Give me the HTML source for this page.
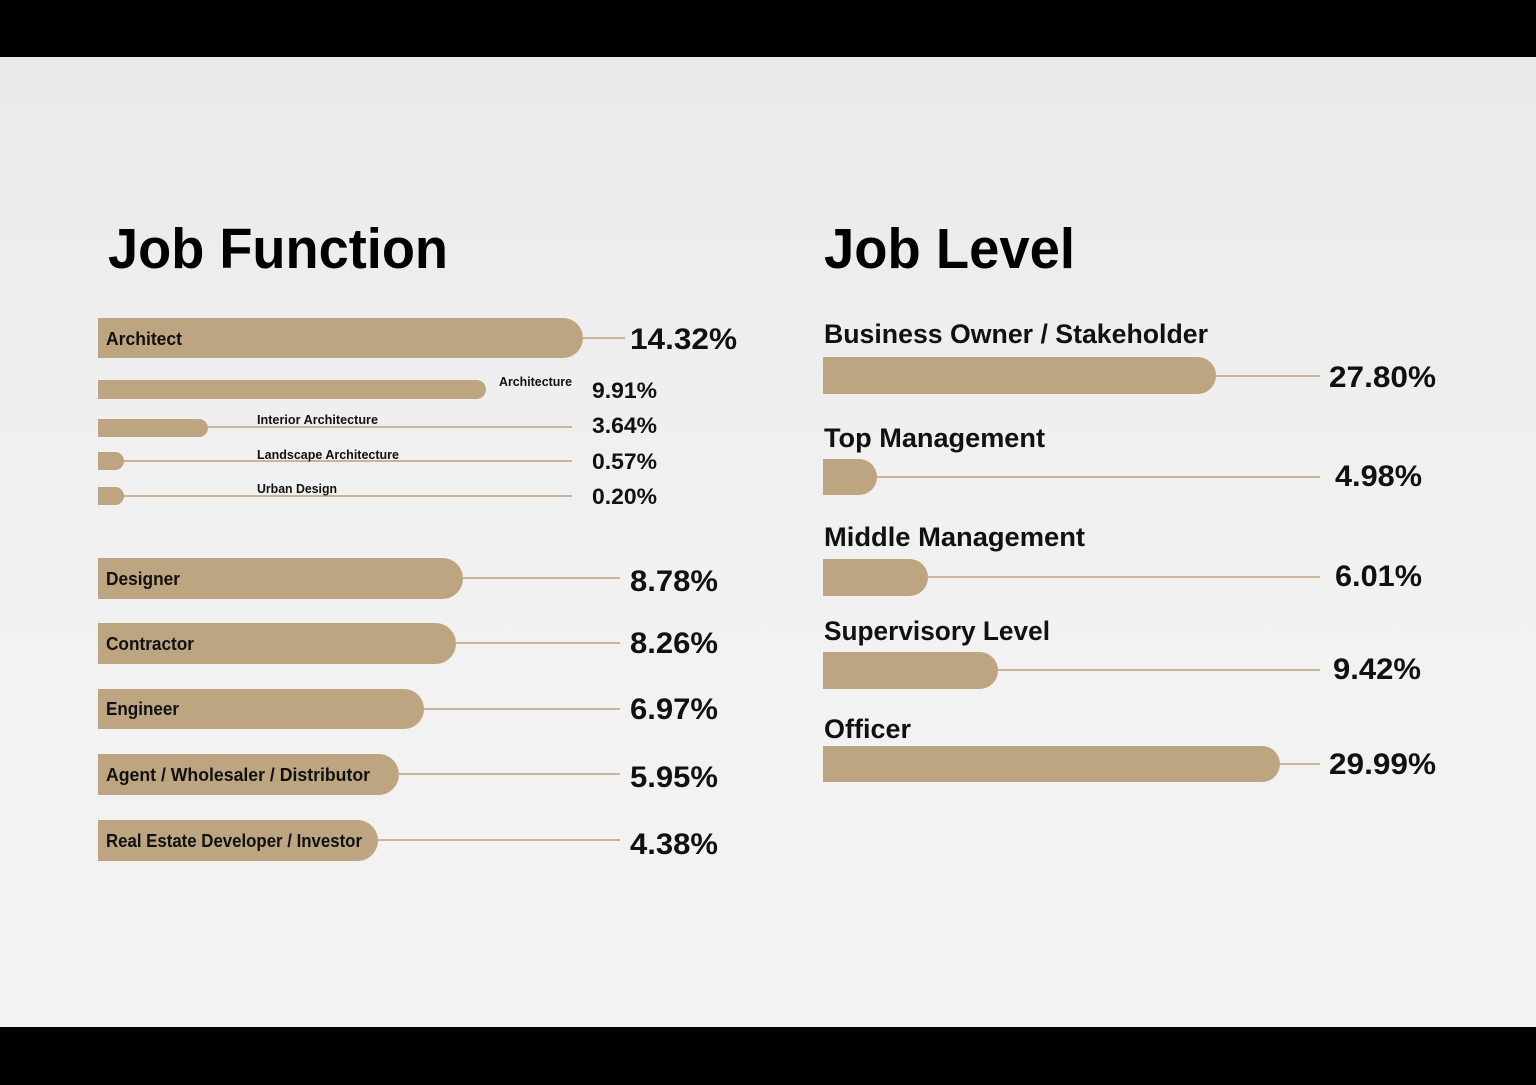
<!DOCTYPE html>
<html><head><meta charset="utf-8"><style>
html,body{margin:0;padding:0;width:1536px;height:1085px;overflow:hidden;background:#000;}
svg{display:block;font-family:"Liberation Sans",sans-serif;font-weight:bold;}
</style></head><body>
<svg width="1536" height="1085" viewBox="0 0 1536 1085" xmlns="http://www.w3.org/2000/svg">
<defs>
<linearGradient id="bg" x1="0" y1="0" x2="0" y2="1">
<stop offset="0" stop-color="#eaeaea"/><stop offset="0.5" stop-color="#f1f1f1"/><stop offset="1" stop-color="#f3f3f3"/>
</linearGradient>
</defs>
<rect x="0" y="0" width="1536" height="1085" fill="#000"/>
<rect x="0" y="57" width="1536" height="970" fill="url(#bg)"/>

<text x="108" y="268" font-size="57" fill="#000" textLength="340" lengthAdjust="spacingAndGlyphs">Job Function</text>
<text x="824" y="268" font-size="57" fill="#000" textLength="251" lengthAdjust="spacingAndGlyphs">Job Level</text>

<g stroke="#c9b699" stroke-width="2">
<line x1="583" y1="338" x2="625" y2="338"/>
<line x1="208" y1="427" x2="572" y2="427"/>
<line x1="124" y1="461" x2="572" y2="461"/>
<line x1="124" y1="496" x2="572" y2="496"/>
<line x1="463" y1="578" x2="620" y2="578"/>
<line x1="456" y1="643" x2="620" y2="643"/>
<line x1="424" y1="709" x2="620" y2="709"/>
<line x1="399" y1="774" x2="620" y2="774"/>
<line x1="378" y1="840" x2="620" y2="840"/>
<line x1="1216" y1="376" x2="1320" y2="376"/>
<line x1="877" y1="477" x2="1320" y2="477"/>
<line x1="928" y1="577" x2="1320" y2="577"/>
<line x1="998" y1="670" x2="1320" y2="670"/>
<line x1="1280" y1="764" x2="1320" y2="764"/>
</g>

<g fill="#bea582">
<path d="M98 318H563A20 20 0 0 1 563 358H98Z"/>
<path d="M98 380H476.5A9.5 9.5 0 0 1 476.5 399H98Z"/>
<path d="M98 419H199A9 9 0 0 1 199 437H98Z"/>
<path d="M98 452H115A9 9 0 0 1 115 470H98Z"/>
<path d="M98 487H115A9 9 0 0 1 115 505H98Z"/>
<path d="M98 558H442.5A20.5 20.5 0 0 1 442.5 599H98Z"/>
<path d="M98 623H435.5A20.5 20.5 0 0 1 435.5 664H98Z"/>
<path d="M98 689H404A20 20 0 0 1 404 729H98Z"/>
<path d="M98 754H378.5A20.5 20.5 0 0 1 378.5 795H98Z"/>
<path d="M98 820H357.5A20.5 20.5 0 0 1 357.5 861H98Z"/>
<path d="M823 357H1197.5A18.5 18.5 0 0 1 1197.5 394H823Z"/>
<path d="M823 459H859A18 18 0 0 1 859 495H823Z"/>
<path d="M823 559H909.5A18.5 18.5 0 0 1 909.5 596H823Z"/>
<path d="M823 652H979.5A18.5 18.5 0 0 1 979.5 689H823Z"/>
<path d="M823 746H1262A18 18 0 0 1 1262 782H823Z"/>
</g>

<g fill="#111" font-size="18">
<text x="106" y="345" textLength="76" lengthAdjust="spacingAndGlyphs">Architect</text>
<text x="106" y="585" textLength="74" lengthAdjust="spacingAndGlyphs">Designer</text>
<text x="106" y="650" textLength="88" lengthAdjust="spacingAndGlyphs">Contractor</text>
<text x="106" y="715" textLength="73" lengthAdjust="spacingAndGlyphs">Engineer</text>
<text x="106" y="781" textLength="264" lengthAdjust="spacingAndGlyphs">Agent / Wholesaler / Distributor</text>
<text x="106" y="847" textLength="256" lengthAdjust="spacingAndGlyphs">Real Estate Developer / Investor</text>
</g>
<g fill="#111" font-size="13">
<text x="499" y="386" textLength="73" lengthAdjust="spacingAndGlyphs">Architecture</text>
<text x="257" y="424" textLength="121" lengthAdjust="spacingAndGlyphs">Interior Architecture</text>
<text x="257" y="459" textLength="142" lengthAdjust="spacingAndGlyphs">Landscape Architecture</text>
<text x="257" y="493" textLength="80" lengthAdjust="spacingAndGlyphs">Urban Design</text>
</g>
<g fill="#111" font-size="22">
<text x="592" y="398" textLength="65" lengthAdjust="spacingAndGlyphs">9.91%</text>
<text x="592" y="433" textLength="65" lengthAdjust="spacingAndGlyphs">3.64%</text>
<text x="592" y="469" textLength="65" lengthAdjust="spacingAndGlyphs">0.57%</text>
<text x="592" y="504" textLength="65" lengthAdjust="spacingAndGlyphs">0.20%</text>
</g>
<g fill="#111" font-size="30">
<text x="630" y="349" textLength="107" lengthAdjust="spacingAndGlyphs">14.32%</text>
<text x="630" y="591" textLength="88" lengthAdjust="spacingAndGlyphs">8.78%</text>
<text x="630" y="653" textLength="88" lengthAdjust="spacingAndGlyphs">8.26%</text>
<text x="630" y="719" textLength="88" lengthAdjust="spacingAndGlyphs">6.97%</text>
<text x="630" y="787" textLength="88" lengthAdjust="spacingAndGlyphs">5.95%</text>
<text x="630" y="854" textLength="88" lengthAdjust="spacingAndGlyphs">4.38%</text>
<text x="1329" y="387" textLength="107" lengthAdjust="spacingAndGlyphs">27.80%</text>
<text x="1335" y="486" textLength="87" lengthAdjust="spacingAndGlyphs">4.98%</text>
<text x="1335" y="586" textLength="87" lengthAdjust="spacingAndGlyphs">6.01%</text>
<text x="1333" y="679" textLength="88" lengthAdjust="spacingAndGlyphs">9.42%</text>
<text x="1329" y="774" textLength="107" lengthAdjust="spacingAndGlyphs">29.99%</text>
</g>
<g fill="#111" font-size="27">
<text x="824" y="343" textLength="384" lengthAdjust="spacingAndGlyphs">Business Owner / Stakeholder</text>
<text x="824" y="447" textLength="221" lengthAdjust="spacingAndGlyphs">Top Management</text>
<text x="824" y="546" textLength="261" lengthAdjust="spacingAndGlyphs">Middle Management</text>
<text x="824" y="640" textLength="226" lengthAdjust="spacingAndGlyphs">Supervisory Level</text>
<text x="824" y="738" textLength="87" lengthAdjust="spacingAndGlyphs">Officer</text>
</g>
</svg>
</body></html>
